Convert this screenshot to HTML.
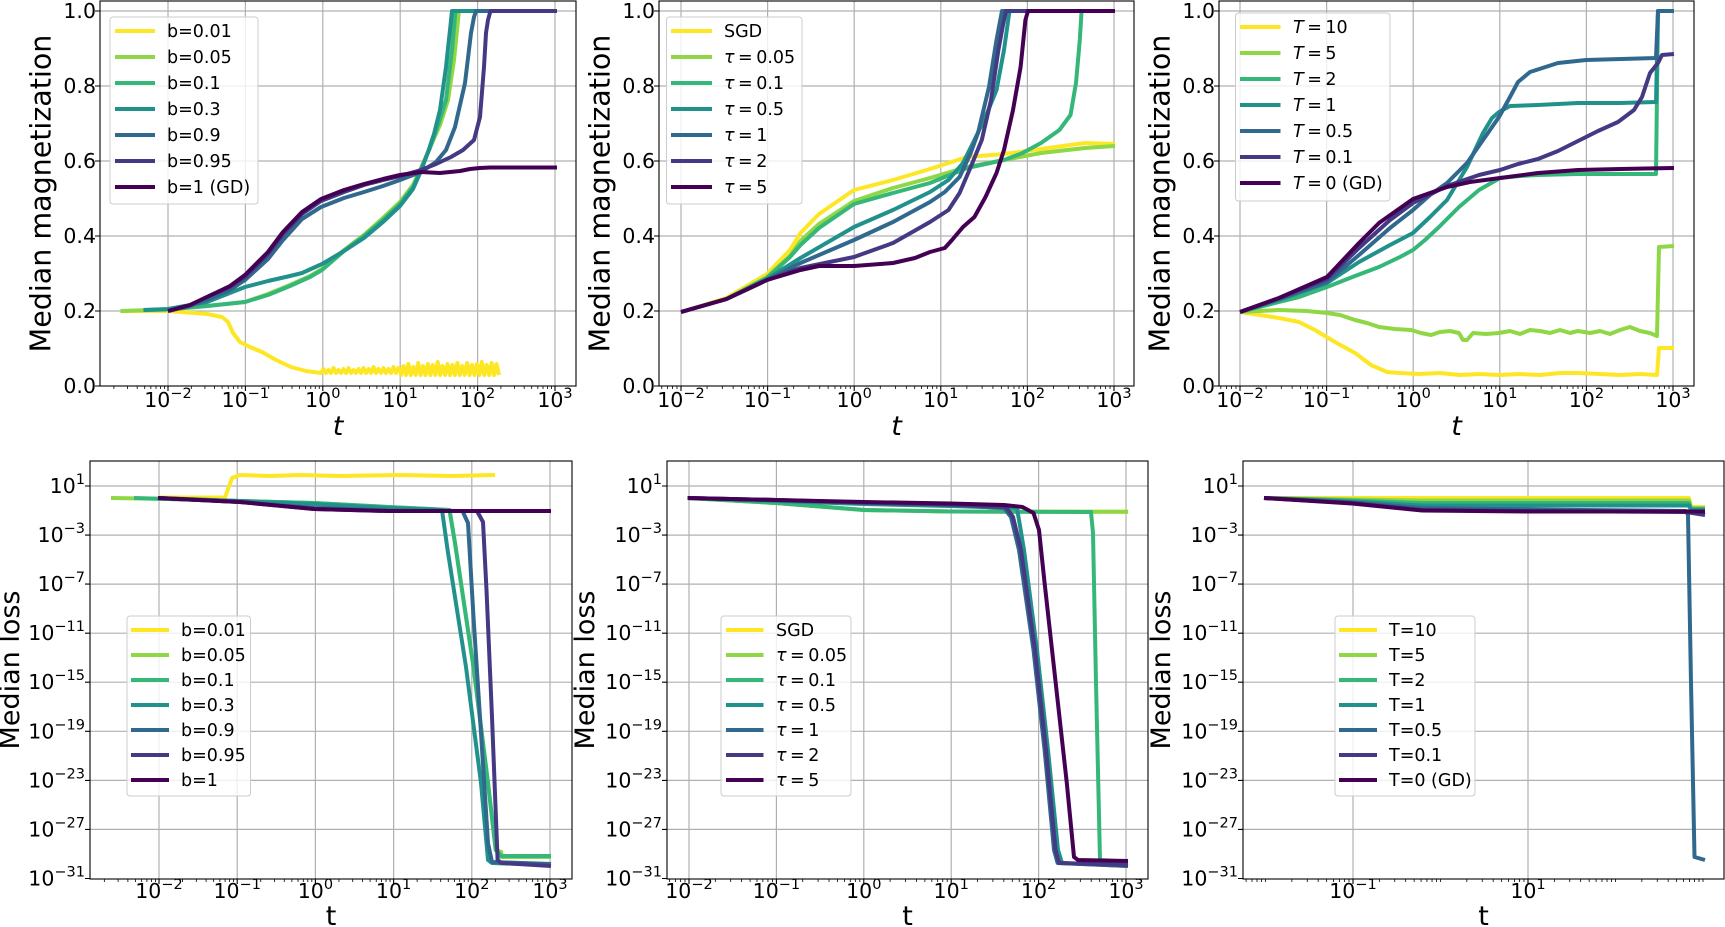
<!DOCTYPE html>
<html>
<head>
<meta charset="utf-8">
<style>
  html,body{margin:0;padding:0;background:#fff;}
  svg{display:block;}
  text{font-family:"DejaVu Sans","Liberation Sans",sans-serif;fill:#000;}
  .tk{font-size:20.5px;}
  .lg{font-size:17.5px;}
  .al{font-size:27px;}
  .alt{font-size:28.5px;}
  .grid line{stroke:#b0b0b0;stroke-width:1.2;}
  .c{fill:none;stroke-width:4;stroke-linejoin:round;stroke-linecap:butt;}
  .spine{fill:none;stroke:#000;stroke-width:1.1;}
  .mj{stroke:#000;stroke-width:1.1;fill:none;}
  .mn{stroke:#000;stroke-width:0.8;fill:none;}
  .leg{fill:#fff;fill-opacity:0.8;stroke:#cccccc;stroke-width:1;}
  .h{stroke-width:4;}
</style>
</head>
<body>
<svg width="1725" height="927" viewBox="0 0 1725 927" xmlns="http://www.w3.org/2000/svg">
<defs>
  <path id="m77" d="M23.3,0v3M36.93,0v3M46.6,0v3M54.1,0v3M60.23,0v3M65.41,0v3M69.9,0v3M73.86,0v3"/>
  <path id="m78" d="M23.54,0v3M37.31,0v3M47.08,0v3M54.66,0v3M60.85,0v3M66.09,0v3M70.62,0v3M74.62,0v3"/>
  <path id="m866" d="M26.07,0v3M41.32,0v3M52.14,0v3M60.53,0v3M67.39,0v3M73.19,0v3M78.21,0v3M82.64,0v3"/>
  <path id="m874" d="M26.31,0v3M41.7,0v3M52.62,0v3M61.09,0v3M68.01,0v3M73.87,0v3M78.93,0v3M83.4,0v3"/>
  <path id="m875" d="M26.34,0v3M41.75,0v3M52.68,0v3M61.16,0v3M68.09,0v3M73.95,0v3M79.02,0v3M83.5,0v3"/>
</defs>
<rect x="0" y="0" width="1725" height="927" fill="#fff"/>

<!-- ================= PANEL 1 (top-left) ================= -->
<g class="grid">
  <line x1="168" y1="1" x2="168" y2="386"/><line x1="245.4" y1="1" x2="245.4" y2="386"/>
  <line x1="322.8" y1="1" x2="322.8" y2="386"/><line x1="400.2" y1="1" x2="400.2" y2="386"/>
  <line x1="477.6" y1="1" x2="477.6" y2="386"/><line x1="555" y1="1" x2="555" y2="386"/>
  <line x1="100" y1="11" x2="576" y2="11"/><line x1="100" y1="86" x2="576" y2="86"/>
  <line x1="100" y1="161" x2="576" y2="161"/><line x1="100" y1="236" x2="576" y2="236"/>
  <line x1="100" y1="311" x2="576" y2="311"/>
</g>
<path class="c" stroke="#fde725" d="M120.5,311 L168,311 L207,314 L222,317 L228,322 L233,333 L240,342 L250,347 L262,352 L276,360 L291,367 L306,371 L321,373 l2.5,-4l2.5,4l2.5,-3l2.5,3l2.5,-5l2.5,5l2.5,-3l2.5,3l2.5,-4l2.5,4l2.5,-5l2.5,5l2.5,-3l2.5,3l2.5,-4l2.5,4l2.5,-5l2.5,5l2.5,-4l2.5,4l2.5,-6l2.5,6l2.5,-4l2.5,4l2.5,-5l2.5,5l2.5,-4l2.5,4l2.5,-6l2.5,6l2.5,-5l2.5,5 L401,375 l2.45,-9l2.45,9l2.45,-11l2.45,11l2.45,-8l2.45,8l2.45,-12l2.45,12l2.45,-9l2.45,9l2.45,-11l2.45,11l2.45,-10l2.45,10l2.45,-13l2.45,13l2.45,-9l2.45,9l2.45,-11l2.45,11l2.45,-10l2.45,10l2.45,-12l2.45,12l2.45,-9l2.45,9l2.45,-12l2.45,12l2.45,-10l2.45,10l2.45,-11l2.45,11l2.45,-13l2.45,13l2.45,-10l2.45,10l2.45,-12l2.45,12l2.45,-11l2.45,11"/>
<polyline class="c" stroke="#8fd744" points="120.5,311 168,309.5 207,306 245,302 268,294 290,285 310,276 322,269 344,250 364,235 383,218 400,202 413,185 421,168 432,143 440,125 448,100 454,60 457,30 459,11 557,11"/>
<polyline class="c" stroke="#35b779" points="143.5,310 168,309.5 207,306 245,302 268,295 290,286 310,277 322,270 344,251 364,236 383,220 400,204 413,187 421,169 430,148 438,125 446,100 452,50 455.5,11 557,11"/>
<polyline class="c" stroke="#21918c" points="143.5,310 168,309 207,302 245,287 268,281 290,276 302,273 322,264 344,251 364,238 383,222 400,206 413,189 421,171 428,152 434,134 440,110 446,67 450,30 452,11 557,11"/>
<polyline class="c" stroke="#31688e" points="168,311 190,306 209,299 230,290 245,280 268,259 283,240 302,219 321,207 344,198 364,192 383,186 400,180 421,172 436,162 446,150 455,127 465,83 471,33 474,17 476,11 557,11"/>
<polyline class="c" stroke="#443983" points="168,311 190,305 209,296 230,287 245,277 268,254 283,234 302,214 321,201 344,192 364,185 383,180 400,176 421,170 436,164 451,157 463,150 474,140 480,117 484,67 486,33 488,20 490.5,11 557,11"/>
<polyline class="c" stroke="#440154" points="168,311 190,305 209,296 230,286 245,275 268,252 283,232 302,212 321,199 344,190 364,184 383,179 400,175 421,172 440,173 460,171 470,169 480,168 490,167.5 557,167.5"/>
<rect class="spine" x="100" y="1" width="476" height="385"/>
<path class="mj" d="M168,386v5M245.4,386v5M322.8,386v5M400.2,386v5M477.6,386v5M555,386v5M100,386h-5M100,311h-5M100,236h-5M100,161h-5M100,86h-5M100,11h-5"/>
<g class="mn"><use href="#m77" x="90.6" y="386"/><use href="#m77" x="168" y="386"/><use href="#m77" x="245.4" y="386"/><use href="#m77" x="322.8" y="386"/><use href="#m77" x="400.2" y="386"/><use href="#m77" x="477.6" y="386"/></g>
<g class="tk" text-anchor="end">
  <text x="96" y="393">0.0</text><text x="96" y="318">0.2</text><text x="96" y="243">0.4</text>
  <text x="96" y="168">0.6</text><text x="96" y="93">0.8</text><text x="96" y="18">1.0</text>
</g>
<g class="tk" text-anchor="middle">
  <text x="168" y="407">10<tspan dy="-9" font-size="14.5">−2</tspan></text>
  <text x="245.4" y="407">10<tspan dy="-9" font-size="14.5">−1</tspan></text>
  <text x="322.8" y="407">10<tspan dy="-9" font-size="14.5">0</tspan></text>
  <text x="400.2" y="407">10<tspan dy="-9" font-size="14.5">1</tspan></text>
  <text x="477.6" y="407">10<tspan dy="-9" font-size="14.5">2</tspan></text>
  <text x="555" y="407">10<tspan dy="-9" font-size="14.5">3</tspan></text>
</g>
<text class="alt" text-anchor="middle" transform="translate(50.5,193.5) rotate(-90)">Median magnetization</text>
<text class="al" x="338" y="435" text-anchor="middle" font-style="italic">t</text>
<rect class="leg" x="110" y="17" width="148" height="187" rx="3"/>
<g class="lg">
  <line class="h" x1="115" y1="31" x2="155" y2="31" stroke="#fde725"/><text x="167" y="37">b=0.01</text>
  <line class="h" x1="115" y1="57" x2="155" y2="57" stroke="#8fd744"/><text x="167" y="63">b=0.05</text>
  <line class="h" x1="115" y1="83" x2="155" y2="83" stroke="#35b779"/><text x="167" y="89">b=0.1</text>
  <line class="h" x1="115" y1="109" x2="155" y2="109" stroke="#21918c"/><text x="167" y="115">b=0.3</text>
  <line class="h" x1="115" y1="135" x2="155" y2="135" stroke="#31688e"/><text x="167" y="141">b=0.9</text>
  <line class="h" x1="115" y1="161" x2="155" y2="161" stroke="#443983"/><text x="167" y="167">b=0.95</text>
  <line class="h" x1="115" y1="187" x2="155" y2="187" stroke="#440154"/><text x="167" y="193">b=1 (GD)</text>
</g>

<!-- ================= PANEL 2 (top-middle) ================= -->
<g class="grid">
  <line x1="681" y1="1" x2="681" y2="386"/><line x1="767.6" y1="1" x2="767.6" y2="386"/>
  <line x1="854.2" y1="1" x2="854.2" y2="386"/><line x1="940.8" y1="1" x2="940.8" y2="386"/>
  <line x1="1027.4" y1="1" x2="1027.4" y2="386"/><line x1="1114" y1="1" x2="1114" y2="386"/>
  <line x1="659" y1="11" x2="1134" y2="11"/><line x1="659" y1="86" x2="1134" y2="86"/>
  <line x1="659" y1="161" x2="1134" y2="161"/><line x1="659" y1="236" x2="1134" y2="236"/>
  <line x1="659" y1="311" x2="1134" y2="311"/>
</g>
<polyline class="c" stroke="#fde725" points="681,312 726.5,298 767,274 790,250 800.5,233 819,214 854,190 893,180 930,169 967,157 1004,154 1041,149 1085,143 1115,144"/>
<polyline class="c" stroke="#8fd744" points="681,312 726.5,299 767,277 790,256 800.5,241 819,224 854,201 893,188 930,178 967,167 1004,160 1041,153 1085,148 1115,146"/>
<polyline class="c" stroke="#35b779" points="681,312 726.5,299 767,278 790,257 800.5,245 819,228 854,204 893,193 930,183 967,168 1004,160 1022.5,153 1041,143 1059.4,130 1070.5,115 1076,83 1079.8,40 1081.6,11 1115,11"/>
<polyline class="c" stroke="#21918c" points="681,312 726.5,299 767,279 800.5,258 854,227 893,210 930,192 948.5,180 963,163 974.4,140 985.5,117 996.5,90 1004,50 1009.5,11 1115,11"/>
<polyline class="c" stroke="#31688e" points="681,312 726.5,299 767,280 800.5,263 854,240 893,222 930,202 944.8,192 959.6,177 970.7,153 978,133 989,87 996.5,40 1002,11 1115,11"/>
<polyline class="c" stroke="#443983" points="681,312 726.5,299 767,280 800.5,268 854,257 893,243 930,222 948.5,210 959.6,193 970.7,167 981.8,140 991,100 998.4,50 1003,25 1006,11 1115,11"/>
<polyline class="c" stroke="#440154" points="681,312 726.5,299 767,280 800.5,270 819,266 854,266 893,263 915,258 930,252 944.8,248 952,240 963,227 974.4,217 985.5,197 996.5,173 1004,150 1013,110 1020.6,67 1025.4,20 1028,11 1115,11"/>
<rect class="spine" x="659" y="1" width="475" height="385"/>
<path class="mj" d="M681,386v5M767.6,386v5M854.2,386v5M940.8,386v5M1027.4,386v5M1114,386v5M659,386h-5M659,311h-5M659,236h-5M659,161h-5M659,86h-5M659,11h-5"/>
<g class="mn"><path d="M661.8,386v3M667.6,386v3M672.6,386v3M677,386v3"/><use href="#m866" x="681" y="386"/><use href="#m866" x="767.6" y="386"/><use href="#m866" x="854.2" y="386"/><use href="#m866" x="940.8" y="386"/><use href="#m866" x="1027.4" y="386"/></g>
<g class="tk" text-anchor="end">
  <text x="655" y="393">0.0</text><text x="655" y="318">0.2</text><text x="655" y="243">0.4</text>
  <text x="655" y="168">0.6</text><text x="655" y="93">0.8</text><text x="655" y="18">1.0</text>
</g>
<g class="tk" text-anchor="middle">
  <text x="681" y="407">10<tspan dy="-9" font-size="14.5">−2</tspan></text>
  <text x="767.6" y="407">10<tspan dy="-9" font-size="14.5">−1</tspan></text>
  <text x="854.2" y="407">10<tspan dy="-9" font-size="14.5">0</tspan></text>
  <text x="940.8" y="407">10<tspan dy="-9" font-size="14.5">1</tspan></text>
  <text x="1027.4" y="407">10<tspan dy="-9" font-size="14.5">2</tspan></text>
  <text x="1114" y="407">10<tspan dy="-9" font-size="14.5">3</tspan></text>
</g>
<text class="alt" text-anchor="middle" transform="translate(609.5,193.5) rotate(-90)">Median magnetization</text>
<text class="al" x="896.5" y="435" text-anchor="middle" font-style="italic">t</text>
<rect class="leg" x="666.5" y="17" width="135.5" height="187" rx="3"/>
<g class="lg">
  <line class="h" x1="671" y1="31" x2="712" y2="31" stroke="#fde725"/><text x="724" y="37">SGD</text>
  <line class="h" x1="671" y1="57" x2="712" y2="57" stroke="#8fd744"/><text x="724" y="63"><tspan font-style="italic">τ</tspan>&#8201;=&#8201;0.05</text>
  <line class="h" x1="671" y1="83" x2="712" y2="83" stroke="#35b779"/><text x="724" y="89"><tspan font-style="italic">τ</tspan>&#8201;=&#8201;0.1</text>
  <line class="h" x1="671" y1="109" x2="712" y2="109" stroke="#21918c"/><text x="724" y="115"><tspan font-style="italic">τ</tspan>&#8201;=&#8201;0.5</text>
  <line class="h" x1="671" y1="135" x2="712" y2="135" stroke="#31688e"/><text x="724" y="141"><tspan font-style="italic">τ</tspan>&#8201;=&#8201;1</text>
  <line class="h" x1="671" y1="161" x2="712" y2="161" stroke="#443983"/><text x="724" y="167"><tspan font-style="italic">τ</tspan>&#8201;=&#8201;2</text>
  <line class="h" x1="671" y1="187" x2="712" y2="187" stroke="#440154"/><text x="724" y="193"><tspan font-style="italic">τ</tspan>&#8201;=&#8201;5</text>
</g>

<!-- ================= PANEL 3 (top-right) ================= -->
<g class="grid">
  <line x1="1240" y1="1" x2="1240" y2="386"/><line x1="1326.6" y1="1" x2="1326.6" y2="386"/>
  <line x1="1413.2" y1="1" x2="1413.2" y2="386"/><line x1="1499.8" y1="1" x2="1499.8" y2="386"/>
  <line x1="1586.4" y1="1" x2="1586.4" y2="386"/><line x1="1673" y1="1" x2="1673" y2="386"/>
  <line x1="1219" y1="11" x2="1694" y2="11"/><line x1="1219" y1="86" x2="1694" y2="86"/>
  <line x1="1219" y1="161" x2="1694" y2="161"/><line x1="1219" y1="236" x2="1694" y2="236"/>
  <line x1="1219" y1="311" x2="1694" y2="311"/>
</g>
<polyline class="c" stroke="#fde725" points="1240,312 1260,315 1279,318 1299,322 1315,330 1335,342 1355,353 1371,365 1387,372 1400,373 1419,374 1440,373 1460,375 1480,374 1499,375 1520,374 1540,375 1560,373 1578,373 1600,374 1620,375 1640,374 1657,375 1659,348 1674,348"/>
<polyline class="c" stroke="#8fd744" points="1240,312 1279,310 1307,311 1327,313 1340,315 1355,320 1367,323 1379,327 1395,329 1411,330 1421,333 1431,335 1440,332 1450,331 1459,333 1463,340 1467,340 1473,333 1486,334 1499,333 1510,331 1520,334 1530,330 1540,331 1550,333 1560,330 1570,333 1578,331 1590,333 1600,331 1610,334 1620,330 1630,327 1640,331 1650,333 1657,336 1659,247 1674,246"/>
<polyline class="c" stroke="#35b779" points="1240,312 1279,302 1299,297 1327,287 1355,276 1379,267 1400,257 1413,250 1425,240 1439,227 1459,207 1479,190 1500,178 1520,176 1538,175 1578,174 1620,174 1656,174 1658,11 1674,11"/>
<polyline class="c" stroke="#21918c" points="1240,312 1279,300 1327,283 1359,262 1390,245 1413,233 1430,217 1447,200 1467,167 1483,133 1492,118 1499,112 1510,106 1538,105 1578,103 1620,103 1656,102 1658,11 1674,11"/>
<polyline class="c" stroke="#31688e" points="1240,312 1279,299 1327,282 1359,255 1390,228 1413,210 1430,195 1447,183 1467,163 1483,140 1499,117 1510,97 1518,82 1530,72 1558,63 1586,60 1656,58 1658,11 1674,11"/>
<polyline class="c" stroke="#443983" points="1240,312 1279,298 1327,279 1359,248 1390,220 1413,203 1447,186 1479,175 1500,170 1518,164 1538,159 1558,151 1578,141 1598,131 1618,122 1634,110 1642,97 1650,73 1658,63 1662,55 1674,54"/>
<polyline class="c" stroke="#440154" points="1240,312 1279,298 1327,277 1359,243 1379,223 1413,199 1447,187 1470,182 1500,178 1538,173 1578,170 1620,169 1674,168"/>
<rect class="spine" x="1219" y="1" width="475" height="385"/>
<path class="mj" d="M1240,386v5M1326.6,386v5M1413.2,386v5M1499.8,386v5M1586.4,386v5M1673,386v5M1219,386h-5M1219,311h-5M1219,236h-5M1219,161h-5M1219,86h-5M1219,11h-5"/>
<g class="mn"><path d="M1220.8,386v3M1226.6,386v3M1231.6,386v3M1236,386v3"/><use href="#m866" x="1240" y="386"/><use href="#m866" x="1326.6" y="386"/><use href="#m866" x="1413.2" y="386"/><use href="#m866" x="1499.8" y="386"/><use href="#m866" x="1586.4" y="386"/></g>
<g class="tk" text-anchor="end">
  <text x="1215" y="393">0.0</text><text x="1215" y="318">0.2</text><text x="1215" y="243">0.4</text>
  <text x="1215" y="168">0.6</text><text x="1215" y="93">0.8</text><text x="1215" y="18">1.0</text>
</g>
<g class="tk" text-anchor="middle">
  <text x="1240" y="407">10<tspan dy="-9" font-size="14.5">−2</tspan></text>
  <text x="1326.6" y="407">10<tspan dy="-9" font-size="14.5">−1</tspan></text>
  <text x="1413.2" y="407">10<tspan dy="-9" font-size="14.5">0</tspan></text>
  <text x="1499.8" y="407">10<tspan dy="-9" font-size="14.5">1</tspan></text>
  <text x="1586.4" y="407">10<tspan dy="-9" font-size="14.5">2</tspan></text>
  <text x="1673" y="407">10<tspan dy="-9" font-size="14.5">3</tspan></text>
</g>
<text class="alt" text-anchor="middle" transform="translate(1169.5,193.5) rotate(-90)">Median magnetization</text>
<text class="al" x="1456.5" y="435" text-anchor="middle" font-style="italic">t</text>
<rect class="leg" x="1235.5" y="13" width="154.5" height="188" rx="3"/>
<g class="lg">
  <line class="h" x1="1240" y1="27" x2="1280.5" y2="27" stroke="#fde725"/><text x="1293" y="33"><tspan font-style="italic">T</tspan>&#8201;=&#8201;10</text>
  <line class="h" x1="1240" y1="53" x2="1280.5" y2="53" stroke="#8fd744"/><text x="1293" y="59"><tspan font-style="italic">T</tspan>&#8201;=&#8201;5</text>
  <line class="h" x1="1240" y1="79" x2="1280.5" y2="79" stroke="#35b779"/><text x="1293" y="85"><tspan font-style="italic">T</tspan>&#8201;=&#8201;2</text>
  <line class="h" x1="1240" y1="105" x2="1280.5" y2="105" stroke="#21918c"/><text x="1293" y="111"><tspan font-style="italic">T</tspan>&#8201;=&#8201;1</text>
  <line class="h" x1="1240" y1="131" x2="1280.5" y2="131" stroke="#31688e"/><text x="1293" y="137"><tspan font-style="italic">T</tspan>&#8201;=&#8201;0.5</text>
  <line class="h" x1="1240" y1="157" x2="1280.5" y2="157" stroke="#443983"/><text x="1293" y="163"><tspan font-style="italic">T</tspan>&#8201;=&#8201;0.1</text>
  <line class="h" x1="1240" y1="183" x2="1280.5" y2="183" stroke="#440154"/><text x="1293" y="189"><tspan font-style="italic">T</tspan>&#8201;=&#8201;0 (GD)</text>
</g>

<!-- ================= PANEL 4 (bottom-left) ================= -->
<g class="grid">
  <line x1="159" y1="461" x2="159" y2="879"/><line x1="237.2" y1="461" x2="237.2" y2="879"/>
  <line x1="315.4" y1="461" x2="315.4" y2="879"/><line x1="393.6" y1="461" x2="393.6" y2="879"/>
  <line x1="471.8" y1="461" x2="471.8" y2="879"/><line x1="550" y1="461" x2="550" y2="879"/>
  <line x1="90" y1="486" x2="572" y2="486"/><line x1="90" y1="535.1" x2="572" y2="535.1"/>
  <line x1="90" y1="584.1" x2="572" y2="584.1"/><line x1="90" y1="633.2" x2="572" y2="633.2"/>
  <line x1="90" y1="682.2" x2="572" y2="682.2"/><line x1="90" y1="731.3" x2="572" y2="731.3"/>
  <line x1="90" y1="780.4" x2="572" y2="780.4"/><line x1="90" y1="829.4" x2="572" y2="829.4"/>
</g>
<polyline class="c" stroke="#fde725" points="158,497.5 225,497.5 232,478 240,475 270,476 300,475 340,476 400,475 450,476 495,475"/>
<polyline class="c" stroke="#8fd744" points="111,498 168,499 240,501 314,503 388,507 430,509 449.5,510 455,543 473.5,667 488,783 495.7,850 501.3,852 501.3,857 551,857"/>
<polyline class="c" stroke="#35b779" points="134,498 168,499 240,501 314,503 388,507 430,509 449.5,510 455,543 473.5,667 488,783 495.7,850 501.3,856 551,856"/>
<polyline class="c" stroke="#21918c" points="158,498 240,501 314,504 388,508 430,509.5 442,510 447.6,550 466,667 481,783 488,860 492,863 551,865"/>
<polyline class="c" stroke="#31688e" points="158,498 240,502 314,508 388,510.5 462.5,511 468,523 473.5,617 481,733 488,843 492,862 551,864"/>
<polyline class="c" stroke="#443983" points="158,498 240,502 314,509 388,511 477,511 483,522 486.5,590 492,717 497.6,860 501.3,863 551,866"/>
<polyline class="c" stroke="#440154" points="158,498 240,502 314,509 388,511 551,511"/>
<rect class="spine" x="90" y="461" width="482" height="418"/>
<path class="mj" d="M159,879v5M237.2,879v5M315.4,879v5M393.6,879v5M471.8,879v5M550,879v5M90,486h-5M90,535.1h-5M90,584.1h-5M90,633.2h-5M90,682.2h-5M90,731.3h-5M90,780.4h-5M90,829.4h-5M90,878.5h-5"/>
<g class="mn"><use href="#m78" x="80.8" y="879"/><use href="#m78" x="159" y="879"/><use href="#m78" x="237.2" y="879"/><use href="#m78" x="315.4" y="879"/><use href="#m78" x="393.6" y="879"/><use href="#m78" x="471.8" y="879"/></g>
<g class="tk" text-anchor="end">
  <text x="85" y="493">10<tspan dy="-9" font-size="14.5">1</tspan></text>
  <text x="85" y="542.1">10<tspan dy="-9" font-size="14.5">−3</tspan></text>
  <text x="85" y="591.1">10<tspan dy="-9" font-size="14.5">−7</tspan></text>
  <text x="85" y="640.2">10<tspan dy="-9" font-size="14.5">−11</tspan></text>
  <text x="85" y="689.2">10<tspan dy="-9" font-size="14.5">−15</tspan></text>
  <text x="85" y="738.3">10<tspan dy="-9" font-size="14.5">−19</tspan></text>
  <text x="85" y="787.4">10<tspan dy="-9" font-size="14.5">−23</tspan></text>
  <text x="85" y="836.4">10<tspan dy="-9" font-size="14.5">−27</tspan></text>
  <text x="85" y="885.5">10<tspan dy="-9" font-size="14.5">−31</tspan></text>
</g>
<g class="tk" text-anchor="middle">
  <text x="159" y="898">10<tspan dy="-9" font-size="14.5">−2</tspan></text>
  <text x="237.2" y="898">10<tspan dy="-9" font-size="14.5">−1</tspan></text>
  <text x="315.4" y="898">10<tspan dy="-9" font-size="14.5">0</tspan></text>
  <text x="393.6" y="898">10<tspan dy="-9" font-size="14.5">1</tspan></text>
  <text x="471.8" y="898">10<tspan dy="-9" font-size="14.5">2</tspan></text>
  <text x="550" y="898">10<tspan dy="-9" font-size="14.5">3</tspan></text>
</g>
<text class="al" text-anchor="middle" transform="translate(19,670) rotate(-90)">Median loss</text>
<text class="al" x="331" y="925" text-anchor="middle">t</text>
<rect class="leg" x="127" y="616" width="123.5" height="180" rx="3"/>
<g class="lg">
  <line class="h" x1="131" y1="630" x2="169" y2="630" stroke="#fde725"/><text x="181" y="636">b=0.01</text>
  <line class="h" x1="131" y1="655" x2="169" y2="655" stroke="#8fd744"/><text x="181" y="661">b=0.05</text>
  <line class="h" x1="131" y1="680" x2="169" y2="680" stroke="#35b779"/><text x="181" y="686">b=0.1</text>
  <line class="h" x1="131" y1="705" x2="169" y2="705" stroke="#21918c"/><text x="181" y="711">b=0.3</text>
  <line class="h" x1="131" y1="730" x2="169" y2="730" stroke="#31688e"/><text x="181" y="736">b=0.9</text>
  <line class="h" x1="131" y1="755" x2="169" y2="755" stroke="#443983"/><text x="181" y="761">b=0.95</text>
  <line class="h" x1="131" y1="780" x2="169" y2="780" stroke="#440154"/><text x="181" y="786">b=1</text>
</g>

<!-- ================= PANEL 5 (bottom-middle) ================= -->
<g class="grid">
  <line x1="689" y1="461" x2="689" y2="879"/><line x1="776.4" y1="461" x2="776.4" y2="879"/>
  <line x1="863.8" y1="461" x2="863.8" y2="879"/><line x1="951.2" y1="461" x2="951.2" y2="879"/>
  <line x1="1038.6" y1="461" x2="1038.6" y2="879"/><line x1="1126" y1="461" x2="1126" y2="879"/>
  <line x1="667" y1="486" x2="1148" y2="486"/><line x1="667" y1="535.1" x2="1148" y2="535.1"/>
  <line x1="667" y1="584.1" x2="1148" y2="584.1"/><line x1="667" y1="633.2" x2="1148" y2="633.2"/>
  <line x1="667" y1="682.2" x2="1148" y2="682.2"/><line x1="667" y1="731.3" x2="1148" y2="731.3"/>
  <line x1="667" y1="780.4" x2="1148" y2="780.4"/><line x1="667" y1="829.4" x2="1148" y2="829.4"/>
</g>
<polyline class="c" stroke="#fde725" points="687.6,498 776,503 864,510 951,511.5 1128,511.7"/>
<polyline class="c" stroke="#8fd744" points="687.6,498 776,503 864,510 951,511.5 1128,511.7"/>
<polyline class="c" stroke="#35b779" points="687.6,498 776,503 864,510 951,511.5 1091,512 1093,533 1096,683 1100,860 1128,862"/>
<polyline class="c" stroke="#21918c" points="687.6,498 776,501 864,504 951,506 1017,508 1024,550 1037,650 1048,750 1058,850 1062,863 1128,866"/>
<polyline class="c" stroke="#31688e" points="687.6,498 776,500 864,503 951,505 1004,508 1011,517 1019,550 1033.5,650 1044.6,750 1054,850 1057.6,863 1128,866"/>
<polyline class="c" stroke="#443983" points="687.6,498 776,500 864,502.5 951,504.5 1006,507 1013,517 1021,550 1035,650 1046,750 1055.5,850 1059,863 1128,865"/>
<polyline class="c" stroke="#440154" points="687.6,498 776,500 864,502 951,503.5 1004,505 1022.5,507 1033.5,513 1039,530 1044.6,583 1055.7,683 1066.8,783 1074,857 1078,860 1128,861"/>
<rect class="spine" x="667" y="461" width="481" height="418"/>
<path class="mj" d="M689,879v5M776.4,879v5M863.8,879v5M951.2,879v5M1038.6,879v5M1126,879v5M667,486h-5M667,535.1h-5M667,584.1h-5M667,633.2h-5M667,682.2h-5M667,731.3h-5M667,780.4h-5M667,829.4h-5M667,878.5h-5"/>
<g class="mn"><path d="M669.6,879v3M675.5,879v3M680.5,879v3M685,879v3"/><use href="#m874" x="689" y="879"/><use href="#m874" x="776.4" y="879"/><use href="#m874" x="863.8" y="879"/><use href="#m874" x="951.2" y="879"/><use href="#m874" x="1038.6" y="879"/></g>
<g class="tk" text-anchor="end">
  <text x="662" y="493">10<tspan dy="-9" font-size="14.5">1</tspan></text>
  <text x="662" y="542.1">10<tspan dy="-9" font-size="14.5">−3</tspan></text>
  <text x="662" y="591.1">10<tspan dy="-9" font-size="14.5">−7</tspan></text>
  <text x="662" y="640.2">10<tspan dy="-9" font-size="14.5">−11</tspan></text>
  <text x="662" y="689.2">10<tspan dy="-9" font-size="14.5">−15</tspan></text>
  <text x="662" y="738.3">10<tspan dy="-9" font-size="14.5">−19</tspan></text>
  <text x="662" y="787.4">10<tspan dy="-9" font-size="14.5">−23</tspan></text>
  <text x="662" y="836.4">10<tspan dy="-9" font-size="14.5">−27</tspan></text>
  <text x="662" y="885.5">10<tspan dy="-9" font-size="14.5">−31</tspan></text>
</g>
<g class="tk" text-anchor="middle">
  <text x="689" y="898">10<tspan dy="-9" font-size="14.5">−2</tspan></text>
  <text x="776.4" y="898">10<tspan dy="-9" font-size="14.5">−1</tspan></text>
  <text x="863.8" y="898">10<tspan dy="-9" font-size="14.5">0</tspan></text>
  <text x="951.2" y="898">10<tspan dy="-9" font-size="14.5">1</tspan></text>
  <text x="1038.6" y="898">10<tspan dy="-9" font-size="14.5">2</tspan></text>
  <text x="1126" y="898">10<tspan dy="-9" font-size="14.5">3</tspan></text>
</g>
<text class="al" text-anchor="middle" transform="translate(594,670) rotate(-90)">Median loss</text>
<text class="al" x="907.5" y="925" text-anchor="middle">t</text>
<rect class="leg" x="721" y="616" width="130" height="180" rx="3"/>
<g class="lg">
  <line class="h" x1="726" y1="630" x2="763.5" y2="630" stroke="#fde725"/><text x="776" y="636">SGD</text>
  <line class="h" x1="726" y1="655" x2="763.5" y2="655" stroke="#8fd744"/><text x="776" y="661"><tspan font-style="italic">τ</tspan>&#8201;=&#8201;0.05</text>
  <line class="h" x1="726" y1="680" x2="763.5" y2="680" stroke="#35b779"/><text x="776" y="686"><tspan font-style="italic">τ</tspan>&#8201;=&#8201;0.1</text>
  <line class="h" x1="726" y1="705" x2="763.5" y2="705" stroke="#21918c"/><text x="776" y="711"><tspan font-style="italic">τ</tspan>&#8201;=&#8201;0.5</text>
  <line class="h" x1="726" y1="730" x2="763.5" y2="730" stroke="#31688e"/><text x="776" y="736"><tspan font-style="italic">τ</tspan>&#8201;=&#8201;1</text>
  <line class="h" x1="726" y1="755" x2="763.5" y2="755" stroke="#443983"/><text x="776" y="761"><tspan font-style="italic">τ</tspan>&#8201;=&#8201;2</text>
  <line class="h" x1="726" y1="780" x2="763.5" y2="780" stroke="#440154"/><text x="776" y="786"><tspan font-style="italic">τ</tspan>&#8201;=&#8201;5</text>
</g>

<!-- ================= PANEL 6 (bottom-right) ================= -->
<g class="grid">
  <line x1="1353" y1="461" x2="1353" y2="879"/><line x1="1528" y1="461" x2="1528" y2="879"/>
  <line x1="1243" y1="486" x2="1724" y2="486"/><line x1="1243" y1="535.1" x2="1724" y2="535.1"/>
  <line x1="1243" y1="584.1" x2="1724" y2="584.1"/><line x1="1243" y1="633.2" x2="1724" y2="633.2"/>
  <line x1="1243" y1="682.2" x2="1724" y2="682.2"/><line x1="1243" y1="731.3" x2="1724" y2="731.3"/>
  <line x1="1243" y1="780.4" x2="1724" y2="780.4"/><line x1="1243" y1="829.4" x2="1724" y2="829.4"/>
</g>
<polyline class="c" stroke="#fde725" points="1264,498 1689,498 1691,507 1705,507"/>
<polyline class="c" stroke="#8fd744" points="1264,498 1352,499.5 1422,500.5 1689,500.5 1691,508 1705,508"/>
<polyline class="c" stroke="#35b779" points="1264,498 1352,500.5 1422,503 1689,503 1691,509 1705,509"/>
<polyline class="c" stroke="#21918c" points="1264,498 1352,501.5 1422,505.5 1689,505.5 1691,510 1705,510"/>
<polyline class="c" stroke="#31688e" points="1264,498 1352,502.5 1422,508 1528,509.5 1686,511 1688,515 1691,683 1694.5,857 1705,860"/>
<polyline class="c" stroke="#443983" points="1264,498 1352,503 1422,510 1528,511 1686,512 1705,515"/>
<polyline class="c" stroke="#440154" points="1264,498 1352,503.5 1422,510.5 1528,511.5 1705,511.5"/>
<rect class="spine" x="1243" y="461" width="481" height="418"/>
<path class="mj" d="M1353,879v5M1528,879v5M1243,486h-5M1243,535.1h-5M1243,584.1h-5M1243,633.2h-5M1243,682.2h-5M1243,731.3h-5M1243,780.4h-5M1243,829.4h-5M1243,878.5h-5"/>
<g class="mn"><path d="M1246.1,879v3M1252,879v3M1257,879v3M1261.5,879v3M1265.5,879v3M1440.5,879v3M1615.5,879v3M1703,879v3"/><use href="#m875" x="1265.5" y="879"/><use href="#m875" x="1353" y="879"/><use href="#m875" x="1440.5" y="879"/><use href="#m875" x="1528" y="879"/><use href="#m875" x="1615.5" y="879"/></g>
<g class="tk" text-anchor="end">
  <text x="1238" y="493">10<tspan dy="-9" font-size="14.5">1</tspan></text>
  <text x="1238" y="542.1">10<tspan dy="-9" font-size="14.5">−3</tspan></text>
  <text x="1238" y="591.1">10<tspan dy="-9" font-size="14.5">−7</tspan></text>
  <text x="1238" y="640.2">10<tspan dy="-9" font-size="14.5">−11</tspan></text>
  <text x="1238" y="689.2">10<tspan dy="-9" font-size="14.5">−15</tspan></text>
  <text x="1238" y="738.3">10<tspan dy="-9" font-size="14.5">−19</tspan></text>
  <text x="1238" y="787.4">10<tspan dy="-9" font-size="14.5">−23</tspan></text>
  <text x="1238" y="836.4">10<tspan dy="-9" font-size="14.5">−27</tspan></text>
  <text x="1238" y="885.5">10<tspan dy="-9" font-size="14.5">−31</tspan></text>
</g>
<g class="tk" text-anchor="middle">
  <text x="1353" y="898">10<tspan dy="-9" font-size="14.5">−1</tspan></text>
  <text x="1528" y="898">10<tspan dy="-9" font-size="14.5">1</tspan></text>
</g>
<text class="al" text-anchor="middle" transform="translate(1170,670) rotate(-90)">Median loss</text>
<text class="al" x="1483.5" y="925" text-anchor="middle">t</text>
<rect class="leg" x="1335" y="616" width="140" height="180" rx="3"/>
<g class="lg">
  <line class="h" x1="1339" y1="630" x2="1377" y2="630" stroke="#fde725"/><text x="1389" y="636">T=10</text>
  <line class="h" x1="1339" y1="655" x2="1377" y2="655" stroke="#8fd744"/><text x="1389" y="661">T=5</text>
  <line class="h" x1="1339" y1="680" x2="1377" y2="680" stroke="#35b779"/><text x="1389" y="686">T=2</text>
  <line class="h" x1="1339" y1="705" x2="1377" y2="705" stroke="#21918c"/><text x="1389" y="711">T=1</text>
  <line class="h" x1="1339" y1="730" x2="1377" y2="730" stroke="#31688e"/><text x="1389" y="736">T=0.5</text>
  <line class="h" x1="1339" y1="755" x2="1377" y2="755" stroke="#443983"/><text x="1389" y="761">T=0.1</text>
  <line class="h" x1="1339" y1="780" x2="1377" y2="780" stroke="#440154"/><text x="1389" y="786">T=0 (GD)</text>
</g>
</svg>
</body>
</html>
